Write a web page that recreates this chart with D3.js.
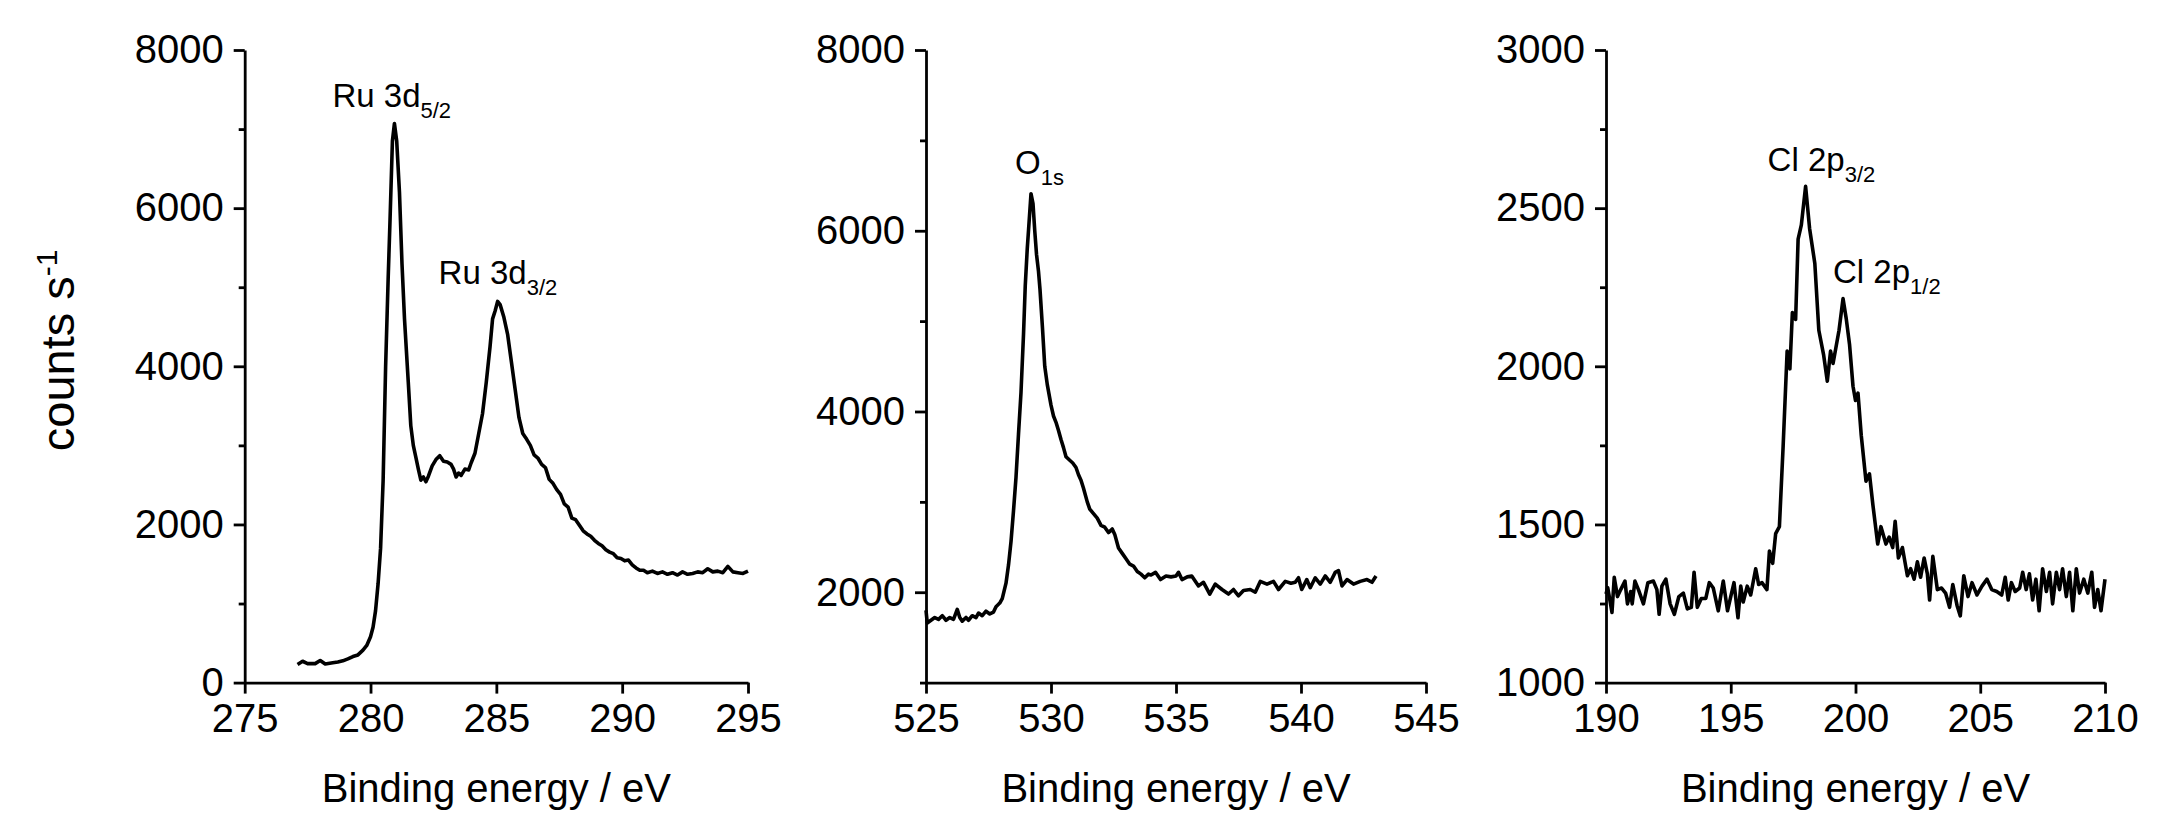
<!DOCTYPE html>
<html>
<head>
<meta charset="utf-8">
<script src="https://cdn.jsdelivr.net/npm/d3@7"></script>
<style>
  body { margin: 0; background: #fff; }
  svg { display: block; font-family: "Liberation Sans", Arial, sans-serif; }
  .axis path, .axis line { stroke: #000; stroke-width: 2.8; }
  .axis text { fill: #000; }
</style>
</head>
<body>
<svg id="chart" width="2180" height="828"></svg>
<script>
// Ru 3d region
let ruEnergy = [277.1,277.3,277.5,277.8,278.0,278.2,278.5,278.7,278.9,279.1,279.3,279.5,279.7,279.85,280.0,280.1,280.2,280.3,280.4,280.5,280.6,280.7,280.77,280.87,280.95,281.04,281.15,281.25,281.35,281.5,281.6,281.7,281.8,281.9,282.0,282.1,282.2,282.3,282.45,282.6,282.75,282.9,283.05,283.2,283.3,283.4,283.5,283.6,283.75,283.9,284.0,284.15,284.3,284.45,284.6,284.75,284.85,284.95,285.05,285.15,285.3,285.45,285.6,285.75,285.9,286.05,286.2,286.35,286.5,286.65,286.8,286.95,287.1,287.25,287.4,287.55,287.7,287.85,288.0,288.15,288.3,288.45,288.6,288.75,288.9,289.05,289.2,289.35,289.5,289.65,289.8,289.95,290.1,290.25,290.4,290.55,290.7,290.85,291.0,291.2,291.4,291.6,291.8,292.0,292.2,292.4,292.6,292.8,293.0,293.2,293.4,293.6,293.8,294.0,294.2,294.4,294.6,294.8,295.0];
let ruCounts = [230,270,240,240,280,235,250,260,275,300,330,350,410,470,580,700,910,1250,1700,2550,4000,5100,5800,6850,7070,6850,6200,5300,4600,3800,3250,3000,2850,2700,2560,2600,2540,2610,2740,2820,2870,2800,2790,2760,2700,2600,2650,2620,2700,2690,2780,2900,3150,3400,3800,4250,4600,4700,4820,4780,4620,4400,4050,3700,3350,3150,3080,3000,2880,2840,2760,2720,2570,2520,2440,2380,2260,2220,2080,2060,1990,1920,1880,1850,1800,1760,1730,1680,1650,1630,1580,1570,1540,1550,1490,1450,1420,1420,1390,1410,1380,1400,1370,1390,1360,1400,1370,1380,1400,1390,1440,1400,1410,1390,1470,1400,1390,1380,1410];

// O 1s region
let oEnergy = [525.0,525.05,525.2,525.35,525.5,525.65,525.8,525.95,526.1,526.25,526.35,526.45,526.6,526.7,526.85,527.0,527.1,527.25,527.4,527.55,527.7,527.8,527.95,528.05,528.2,528.3,528.4,528.5,528.6,528.7,528.8,528.9,528.97,529.05,529.1,529.2,529.28,529.35,529.42,529.5,529.56,529.66,529.75,529.85,530.0,530.1,530.2,530.3,530.4,530.5,530.6,530.75,530.87,531.0,531.1,531.2,531.3,531.45,531.55,531.7,531.85,532.0,532.15,532.3,532.45,532.55,532.7,532.85,533.0,533.15,533.3,533.45,533.6,533.75,533.9,534.0,534.18,534.38,534.6,534.8,535.0,535.1,535.24,535.45,535.63,535.9,536.1,536.35,536.57,536.84,537.1,537.3,537.5,537.7,537.97,538.17,538.37,538.64,538.9,539.1,539.37,539.6,539.77,539.9,540.03,540.23,540.37,540.57,540.77,540.97,541.17,541.37,541.5,541.64,541.84,542.1,542.37,542.64,542.84,543.0];
let oCounts = [1800,1660,1690,1720,1700,1740,1690,1720,1700,1810,1720,1680,1720,1690,1740,1720,1770,1740,1790,1760,1780,1840,1880,1930,2100,2300,2560,2900,3270,3750,4210,4850,5390,5800,6000,6410,6300,6000,5740,5550,5350,4920,4500,4300,4070,3950,3880,3790,3690,3600,3500,3460,3430,3380,3300,3240,3150,3000,2920,2870,2820,2740,2720,2660,2700,2640,2490,2430,2370,2310,2290,2230,2200,2160,2200,2190,2220,2140,2180,2170,2180,2220,2140,2170,2180,2070,2110,1980,2090,2030,1980,2030,1960,2020,2030,2000,2120,2090,2120,2030,2120,2100,2110,2160,2030,2140,2050,2160,2090,2180,2110,2220,2240,2070,2140,2090,2120,2140,2110,2180];

// Cl 2p region
let clEnergy = [190.0,190.07,190.24,190.33,190.46,190.59,190.76,190.86,190.99,191.05,191.16,191.3,191.5,191.68,191.9,192.04,192.13,192.24,192.4,192.57,192.74,192.92,193.1,193.26,193.42,193.53,193.66,193.82,194.0,194.14,194.3,194.5,194.7,194.87,195.0,195.13,195.29,195.4,195.5,195.66,195.8,196.0,196.12,196.25,196.45,196.55,196.68,196.8,196.95,197.1,197.26,197.37,197.47,197.6,197.7,197.83,198.0,198.16,198.37,198.53,198.72,198.87,199.0,199.1,199.34,199.5,199.63,199.76,199.9,200.0,200.1,200.23,200.42,200.56,200.7,200.89,201.02,201.22,201.35,201.49,201.59,201.72,201.88,202.08,202.21,202.35,202.48,202.61,202.75,202.88,202.97,203.1,203.28,203.45,203.61,203.77,203.9,204.07,204.2,204.34,204.51,204.67,204.87,205.07,205.27,205.46,205.66,205.86,206.0,206.12,206.25,206.4,206.58,206.7,206.84,206.97,207.1,207.23,207.36,207.5,207.65,207.78,207.9,208.05,208.18,208.3,208.45,208.58,208.71,208.85,208.98,209.15,209.31,209.47,209.58,209.71,209.84,210.0];
let clCounts = [1280,1300,1222,1333,1272,1294,1321,1249,1288,1249,1321,1294,1249,1316,1321,1294,1216,1305,1327,1249,1216,1272,1283,1233,1238,1349,1238,1266,1266,1316,1299,1227,1321,1227,1272,1316,1205,1305,1255,1305,1277,1360,1310,1316,1294,1416,1377,1471,1493,1748,2048,1992,2170,2148,2402,2447,2569,2436,2325,2114,2037,1953,2048,2009,2114,2214,2150,2070,1937,1892,1915,1782,1637,1660,1560,1438,1493,1438,1460,1427,1510,1394,1427,1338,1360,1327,1382,1333,1394,1344,1261,1399,1294,1299,1283,1238,1310,1244,1211,1338,1272,1316,1277,1305,1327,1294,1288,1277,1333,1261,1316,1288,1299,1349,1294,1344,1261,1327,1227,1360,1288,1349,1249,1349,1294,1360,1272,1349,1227,1360,1283,1327,1283,1349,1238,1294,1227,1327];

// tick values
let ruXTicks = [275, 280, 285, 290, 295];
let ruYTicks = [0, 2000, 4000, 6000, 8000];
let ruYMinor = [1000, 3000, 5000, 7000];
let oXTicks = [525, 530, 535, 540, 545];
let oYTicks = [2000, 4000, 6000, 8000];
let oYMinor = [1000, 3000, 5000, 7000];
let clXTicks = [190, 195, 200, 205, 210];
let clYTicks = [1000, 1500, 2000, 2500, 3000];
let clYMinor = [1250, 1750, 2250, 2750];

// peak labels: [main text, subscript, peak energy, peak counts]
let ruLabels = [["Ru 3d", "5/2", 280.95, 7070], ["Ru 3d", "3/2", 285.05, 4820]];
let oLabels = [["O", "1s", 529.2, 6410]];
let clLabels = [["Cl 2p", "3/2", 198.0, 2569], ["Cl 2p", "1/2", 199.5, 2214]];

let xTitle = "Binding energy / eV";

let svg = d3.select("#chart");
let plotTop = 50, plotBottom = 682.6;

function drawPanel(cfg) {
    let x = d3.scaleLinear().domain(cfg.xDomain).range([cfg.left, cfg.right]);
    let y = d3.scaleLinear().domain(cfg.yDomain).range([plotBottom, plotTop]);
    let g = svg.append("g");

    // minor y ticks
    g.append("g")
        .attr("class", "axis")
        .attr("transform", "translate(" + cfg.left + ",0)")
        .call(d3.axisLeft(y).tickValues(cfg.yMinor).tickSize(6).tickSizeOuter(0).tickFormat(""))
        .select(".domain").remove();

    g.append("g")
        .attr("class", "axis")
        .attr("transform", "translate(" + cfg.left + ",0)")
        .call(d3.axisLeft(y).tickValues(cfg.yTicks).tickSize(11).tickSizeOuter(0).tickPadding(10).tickFormat(d3.format("d")))
        .selectAll("text")
        .style("font-size", "40px");

    g.append("g")
        .attr("class", "axis")
        .attr("transform", "translate(0," + plotBottom + ")")
        .call(d3.axisBottom(x).tickValues(cfg.xTicks).tickSize(11).tickSizeOuter(0).tickPadding(10).tickFormat(d3.format("d")))
        .selectAll("text")
        .style("font-size", "40px");

    let line = d3.line()
        .x(function (d) { return x(d[0]); })
        .y(function (d) { return y(d[1]); });

    g.append("path")
        .datum(d3.zip(cfg.energy, cfg.counts))
        .attr("fill", "none")
        .attr("stroke", "#000")
        .attr("stroke-width", 3.6)
        .attr("stroke-linejoin", "round")
        .attr("d", line);

    // peak labels
    cfg.labels.forEach(function (l, i) {
        let off = cfg.labelOffsets[i];
        let t = g.append("text")
            .attr("x", x(l[2]) + off[0])
            .attr("y", y(l[3]) + off[1])
            .style("font-size", "33px");
        t.append("tspan").text(l[0]);
        t.append("tspan").attr("dy", 11).style("font-size", "22px").text(l[1]);
    });

    g.append("text")
        .attr("x", (cfg.left + cfg.right) / 2)
        .attr("y", 802)
        .attr("text-anchor", "middle")
        .style("font-size", "40px")
        .text(xTitle);
}

drawPanel({
    xDomain: [275, 295], yDomain: [0, 8000], left: 244.7, right: 748,
    xTicks: ruXTicks, yTicks: ruYTicks, yMinor: ruYMinor,
    energy: ruEnergy, counts: ruCounts, labels: ruLabels,
    labelOffsets: [[-62, -17], [-59, -17]]
});
drawPanel({
    xDomain: [525, 545], yDomain: [1000, 8000], left: 926, right: 1426,
    xTicks: oXTicks, yTicks: oYTicks, yMinor: oYMinor,
    energy: oEnergy, counts: oCounts, labels: oLabels,
    labelOffsets: [[-16, -20]]
});
drawPanel({
    xDomain: [190, 210], yDomain: [1000, 3000], left: 1606, right: 2105,
    xTicks: clXTicks, yTicks: clYTicks, yMinor: clYMinor,
    energy: clEnergy, counts: clCounts, labels: clLabels,
    labelOffsets: [[-38, -15], [-10, -16]]
});

// y axis title
let yt = svg.append("text")
    .attr("transform", "translate(74," + ((plotTop + plotBottom) / 2 - 16) + ") rotate(-90)")
    .attr("text-anchor", "middle")
    .style("font-size", "47px");
yt.append("tspan").text("counts s");
yt.append("tspan").attr("dy", -17).style("font-size", "30px").text("-1");
</script>
</body>
</html>
